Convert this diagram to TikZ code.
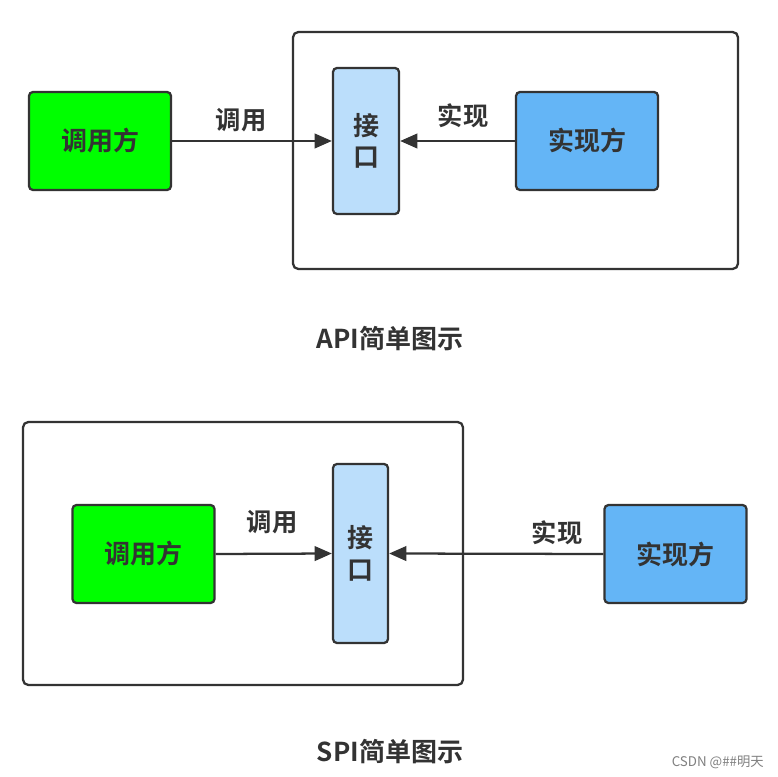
\documentclass[tikz,border=0pt]{standalone}
\usepackage{fontspec}
\setmainfont{Noto Sans CJK SC}[BoldFont={* Bold}]
\usetikzlibrary{arrows.meta}
\definecolor{ink}{HTML}{333333}
\definecolor{callg}{HTML}{00FF00}
\definecolor{ifblue}{HTML}{BBDEFB}
\definecolor{implblue}{HTML}{64B5F6}
\begin{document}
\begin{tikzpicture}[x=0.75pt,y=-0.75pt,
  box/.style={draw=ink,line width=1.7pt,rounded corners=3pt,inner sep=0pt,
    text=ink,font=\fontsize{19.5}{23.5}\selectfont\bfseries,align=center},
  wide/.style={box,minimum width=106.5pt,minimum height=73.5pt},
  frame/.style={draw=ink,line width=1.7pt,rounded corners=4pt,inner sep=0pt},
  arr/.style={draw=ink,line width=1.7pt,-{Triangle[length=13pt,width=11pt]}},
  lbl/.style={text=ink,font=\fontsize{19}{23}\selectfont\bfseries,inner sep=0pt},
  ttl/.style={text=ink,font=\fontsize{19.5}{23.5}\selectfont\bfseries,inner sep=0pt}]
\useasboundingbox[fill=white] (0,0) rectangle (778,777);
% --- API ---
\node[frame,minimum width=333.75pt,minimum height=177.75pt] (f1) at (515.5,150.5) {};
\node[wide,fill=callg] (c1) at (100,141) {调用方};
\node[box,fill=ifblue,minimum width=49.5pt,minimum height=109.5pt] (i1) at (366,141) {接\\口};
\node[wide,fill=implblue] (m1) at (587,141) {实现方};
\draw[arr] (c1.east) -- (i1.west);
\draw[arr] (m1.west) -- (i1.east);
\node[lbl] (l1) at (241,120) {调用};
\node[lbl] (l2) at (463,116) {实现};
\node[ttl] (t1) at (390,339) {API简单图示};
% --- SPI ---
\node[frame,minimum width=330pt,minimum height=197.25pt] (f2) at (243,553.5) {};
\node[wide,fill=callg] (c2) at (143.5,554) {调用方};
\node[box,fill=ifblue,minimum width=41.25pt,minimum height=134.25pt] (i2) at (360.5,553.5) {接\\口};
\node[wide,fill=implblue] (m2) at (675.5,554) {实现方};
\draw[arr] (c2.east) -- (i2.west);
\draw[arr] (m2.west) -- (i2.east);
\node[lbl] (l3) at (272,522) {调用};
\node[lbl] (l4) at (557,533) {实现};
\node[ttl] (t2) at (390,752) {SPI简单图示};
\node[anchor=east,text=gray,font=\fontsize{10}{12}\selectfont,inner sep=0pt] (wm) at (764,762) {CSDN @\#\#明天};
\end{tikzpicture}
\end{document}
